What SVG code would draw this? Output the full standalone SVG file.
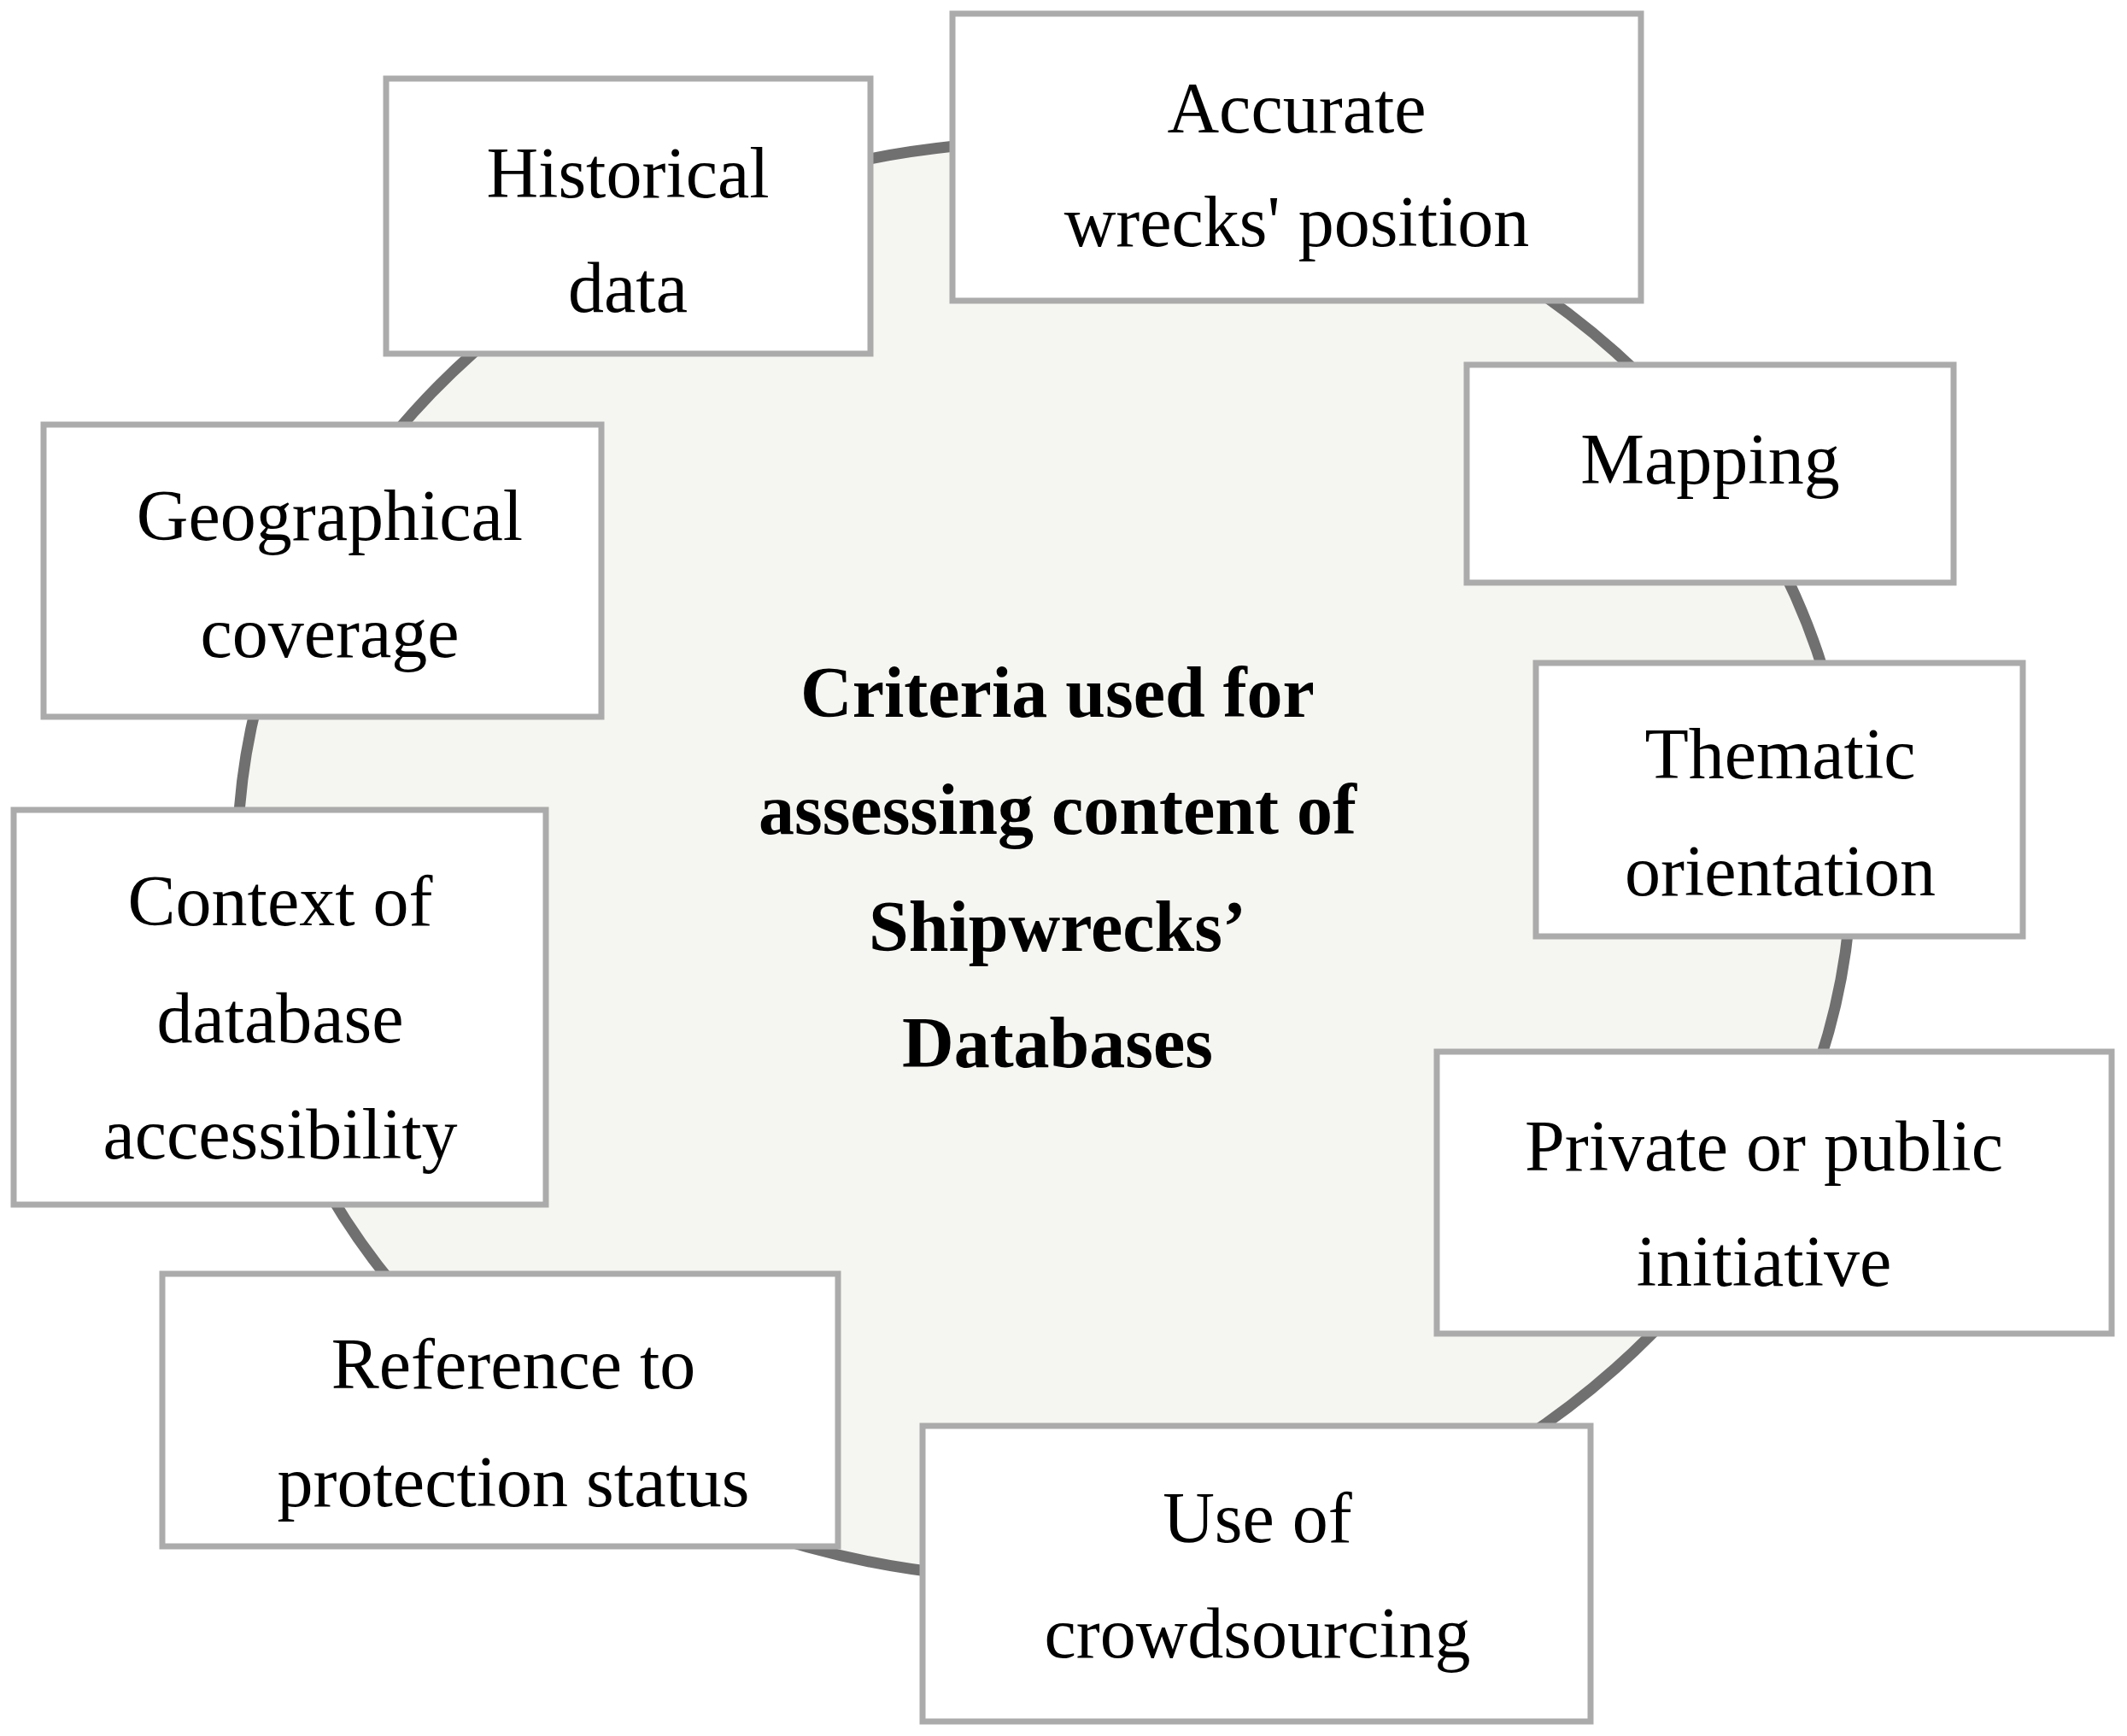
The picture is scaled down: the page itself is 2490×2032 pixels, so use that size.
<svg xmlns="http://www.w3.org/2000/svg" width="2490" height="2032" viewBox="0 0 2490 2032">
<style>
.b{fill:#fff;stroke:#ababab;stroke-width:7}
.t{font-family:"Liberation Serif",serif;font-size:84px;fill:#000;text-anchor:middle}
.c{font-weight:bold}
</style>
<rect width="2490" height="2032" fill="#fff"/>
<g id="hub"><ellipse cx="1223" cy="1007" rx="945" ry="841" fill="#f5f6f1" stroke="#707070" stroke-width="13"/>
<text class="t c" x="1238" y="839">Criteria used for</text><text class="t c" x="1238" y="976">assessing content of</text><text class="t c" x="1238" y="1113">Shipwrecks’</text><text class="t c" x="1238" y="1249">Databases</text></g>
<g id="n1"><rect class="b" x="452" y="92" width="567" height="322"/><text class="t" x="735" y="231">Historical</text><text class="t" x="735" y="365">data</text></g>
<g id="n2"><rect class="b" x="1115" y="16" width="806" height="336"/><text class="t" x="1518" y="155">Accurate</text><text class="t" x="1518" y="288">wrecks' position</text></g>
<g id="n3"><rect class="b" x="1717" y="427" width="570" height="255"/><text class="t" x="2002" y="566">Mapping</text></g>
<g id="n4"><rect class="b" x="51" y="497" width="653" height="342"/><text class="t" x="386" y="632">Geographical</text><text class="t" x="386" y="769">coverage</text></g>
<g id="n5"><rect class="b" x="1798" y="776" width="570" height="320"/><text class="t" x="2084" y="911">Thematic</text><text class="t" x="2084" y="1048">orientation</text></g>
<g id="n6"><rect class="b" x="16" y="948" width="623" height="462"/><text class="t" x="328" y="1083">Context of</text><text class="t" x="328" y="1220">database</text><text class="t" x="328" y="1356">accessibility</text></g>
<g id="n7"><rect class="b" x="1682" y="1231" width="790" height="330"/><text class="t" x="2065" y="1370">Private or public</text><text class="t" x="2065" y="1505">initiative</text></g>
<g id="n8"><rect class="b" x="190" y="1491" width="791" height="319"/><text class="t" x="601" y="1625">Reference to</text><text class="t" x="601" y="1763">protection status</text></g>
<g id="n9"><rect class="b" x="1080" y="1669" width="782" height="346"/><text class="t" x="1472" y="1805">Use of</text><text class="t" x="1472" y="1940">crowdsourcing</text></g>
<g id="connectors"></g>
</svg>
